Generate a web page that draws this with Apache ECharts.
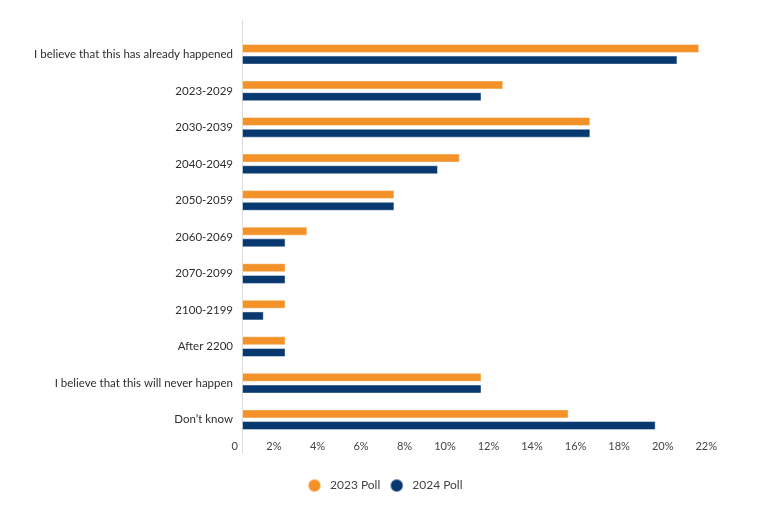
<!DOCTYPE html>
<html>
<head>
<meta charset="utf-8">
<script src="https://cdn.jsdelivr.net/npm/echarts@6/dist/echarts.min.js"></script>
<style>html,body{margin:0;padding:0;background:#fff}#c{width:768px;height:506px}</style>
</head>
<body>
<div id="c"></div>
<script>
var categories = [
  "I believe that this has already happened",
  "2023-2029",
  "2030-2039",
  "2040-2049",
  "2050-2059",
  "2060-2069",
  "2070-2099",
  "2100-2199",
  "After 2200",
  "I believe that this will never happen",
  "Don\u2019t know"
];
var poll2023 = [21, 12, 16, 10, 7, 3, 2, 2, 2, 11, 15];
var poll2024 = [20, 11, 16, 9, 7, 2, 2, 1, 2, 11, 19];
var seriesNames = ["2023 Poll", "2024 Poll"];
var xTicks = { min: 0, max: 22, interval: 2 };

var chart = echarts.init(document.getElementById('c'), null, { renderer: 'canvas' });
var font = 'Lato';
chart.setOption({
  animation: false,
  backgroundColor: '#fff',
  color: ['#F39229', '#07386F'],
  legend: {
    data: seriesNames,
    left: 302,
    top: 473,
    icon: 'circle',
    itemWidth: 13,
    itemHeight: 13,
    itemGap: 9,
    textStyle: { fontFamily: font, fontSize: 12, color: '#444', padding: [0, 0, 0, 4] }
  },
  grid: [
    { left: 242, right: 47, top: 36, bottom: 68, containLabel: false },
    { left: 242, right: 47, top: 20, bottom: 53, containLabel: false }
  ],
  xAxis: [
    {
      type: 'value', gridIndex: 0,
      min: xTicks.min, max: xTicks.max, interval: xTicks.interval,
      axisLine: { show: false }, axisTick: { show: false }, splitLine: { show: false },
      axisLabel: {
        margin: 3,
        align: 'right',
        padding: [0, 4, 0, 0],
        fontFamily: font, fontSize: 11, color: '#444',
        formatter: function (v) { return v === 0 ? '0' : v + '%'; }
      }
    },
    { type: 'value', gridIndex: 1, show: false, min: 0, max: 22 }
  ],
  yAxis: [
    {
      type: 'category', gridIndex: 0, data: categories, inverse: true,
      axisLine: { show: false }, axisTick: { show: false },
      axisLabel: { margin: 9, fontFamily: font, fontSize: 11.5, color: '#2e2e2e' }
    },
    {
      type: 'category', gridIndex: 1, data: [''],
      axisLine: { show: true, lineStyle: { color: '#dcdcdc', width: 1 } },
      axisTick: { show: false }, axisLabel: { show: false }
    }
  ],
  series: [
    {
      name: seriesNames[0], type: 'bar', xAxisIndex: 0, yAxisIndex: 0,
      data: poll2023, barWidth: 9, barGap: '30%',
      itemStyle: { borderColor: 'rgba(255,255,255,0.45)', borderWidth: 1 }
    },
    {
      name: seriesNames[1], type: 'bar', xAxisIndex: 0, yAxisIndex: 0,
      data: poll2024, barWidth: 9, barGap: '30%',
      itemStyle: { borderColor: 'rgba(255,255,255,0.45)', borderWidth: 1 }
    }
  ]
});
</script>
</body>
</html>
